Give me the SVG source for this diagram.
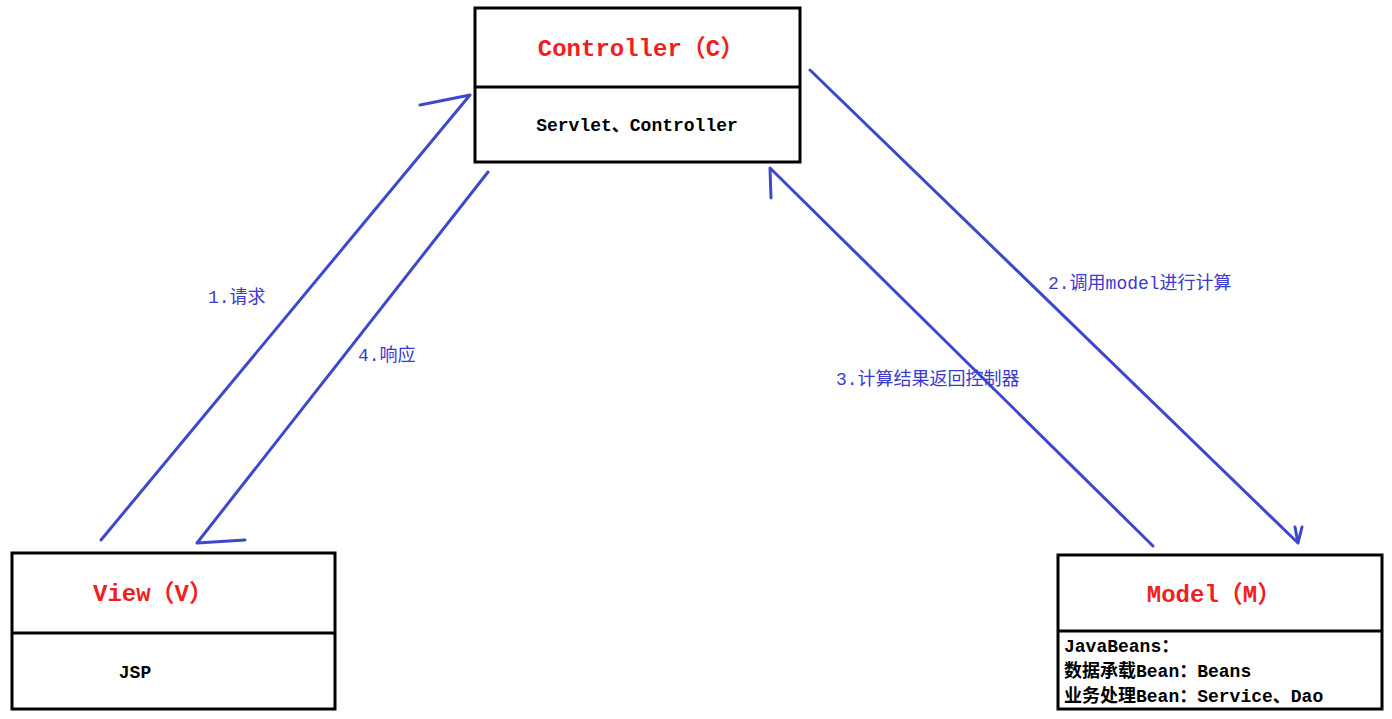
<svg xmlns="http://www.w3.org/2000/svg" width="1392" height="719" viewBox="0 0 1392 719">
<style>
.box{fill:#fff;stroke:#000;stroke-width:3}
.t{font-family:"Liberation Mono","Noto Sans CJK SC",monospace;font-weight:bold}
.title{fill:#f02020;font-size:24px}
.sub{fill:#000;font-size:18px}
.lbl{fill:#3a3ad0;font-size:18px;font-family:"Liberation Mono","Noto Sans CJK SC",monospace}
.ln{fill:none;stroke:#3f48cc;stroke-width:3;stroke-linecap:round;stroke-linejoin:round}
</style>
<rect width="1392" height="719" fill="#fff"/>
<g id="controller">
<rect class="box" x="475" y="8" width="325" height="154"/>
<line x1="475" y1="87" x2="800" y2="87" stroke="#000" stroke-width="3"/>
<text class="t title" x="641" y="56" text-anchor="middle">Controller（C）</text>
<text class="t sub" x="637" y="131" text-anchor="middle">Servlet、Controller</text>
</g>
<g id="view">
<rect class="box" x="12" y="553" width="323" height="156"/>
<line x1="12" y1="633" x2="335" y2="633" stroke="#000" stroke-width="3"/>
<text class="t title" x="153" y="601" text-anchor="middle">View（V）</text>
<text class="t sub" x="135" y="678" text-anchor="middle">JSP</text>
</g>
<g id="model">
<rect class="box" x="1058" y="555" width="324" height="154"/>
<line x1="1058" y1="631" x2="1382" y2="631" stroke="#000" stroke-width="3"/>
<text class="t title" x="1214" y="602" text-anchor="middle">Model（M）</text>
<text class="t sub" x="1064" y="652">JavaBeans：</text>
<text class="t sub" x="1064" y="677">数据承载Bean：Beans</text>
<text class="t sub" x="1064" y="702">业务处理Bean：Service、Dao</text>
</g>
<g id="connectors">
<path class="ln" d="M101,540 L470,95 L420,105"/>
<path class="ln" d="M488,172 L197,543 L245,540"/>
<path class="ln" d="M1153,546 L770,168 L771,198"/>
<path class="ln" d="M810,70 L1298,543 M1295,527 L1298,543 L1302,527"/>
<text class="lbl" x="208" y="303">1.请求</text>
<text class="lbl" x="358" y="361">4.响应</text>
<text class="lbl" x="836" y="385">3.计算结果返回控制器</text>
<text class="lbl" x="1048" y="289">2.调用model进行计算</text>
</g>
</svg>
